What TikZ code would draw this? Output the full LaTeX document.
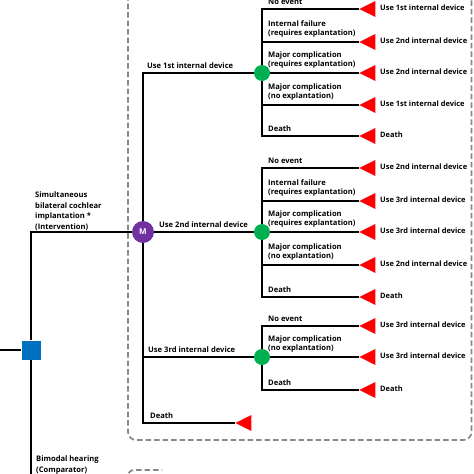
\documentclass[tikz,border=0pt]{standalone}
\usepackage{fontspec}
\setmainfont{Open Sans}
\usetikzlibrary{shapes.geometric}
\definecolor{cblue}{HTML}{0070C0}
\definecolor{cpurple}{HTML}{7030A0}
\definecolor{cgreen}{HTML}{00B050}
\definecolor{cred}{HTML}{FF0000}
\definecolor{cgray}{HTML}{888888}
\tikzset{
  wire/.style={line width=1.9pt, black},
  decnode/.style={rectangle, fill=cblue, minimum size=19pt, inner sep=0pt},
  mnode/.style={circle, fill=cpurple, minimum size=22pt, inner sep=0pt, text=white, font=\bfseries\fontsize{8}{9}\selectfont},
  chnode/.style={circle, fill=cgreen, minimum size=16pt, inner sep=0pt},
  term/.style={isosceles triangle, isosceles triangle apex angle=90, fill=cred, shape border rotate=180, minimum width=16pt, minimum height=16pt, inner sep=0pt, isosceles triangle stretches, anchor=apex},
  lbl/.style={anchor=south west, inner sep=0pt, align=left, font=\bfseries\fontsize{7.6}{9.5}\selectfont},
  outlbl/.style={anchor=west, inner sep=0pt, font=\bfseries\fontsize{7.45}{9.5}\selectfont},
  rootlbl/.style={inner sep=0pt, align=left, font=\bfseries\fontsize{7.6}{10.7}\selectfont},
  boxline/.style={cgray, line width=1.7pt, dash pattern=on 5.5pt off 3pt}
}
\begin{document}
\begin{tikzpicture}[x=1pt,y=-1pt]
\useasboundingbox (0,0) rectangle (474,474);
\clip (0,0) rectangle (474,474);
% dashed boxes
\draw[boxline, rounded corners=8pt] (128,-30) rectangle (471.5,440);
\draw[boxline, rounded corners=6pt] (128,490) -- (128,470) -- (162,470);
% nodes
\coordinate (in) at (0,350);
\coordinate (bot) at (31,480);
\node[decnode] (sq) at (31,350) {};
\node[mnode] (m) at (143,232) {M};
\node[chnode] (g1) at (262,73) {};
\node[chnode] (g2) at (262,232) {};
\node[chnode] (g3) at (262,357) {};
% terminals group 1
\node[term] (t11) at (359,9) {};
\node[term] (t12) at (359,42) {};
\node[term] (t13) at (359,73) {};
\node[term] (t14) at (359,105) {};
\node[term] (t15) at (359,136) {};
% group 2
\node[term] (t21) at (359,168) {};
\node[term] (t22) at (359,201) {};
\node[term] (t23) at (359,232) {};
\node[term] (t24) at (359,265) {};
\node[term] (t25) at (359,297) {};
% group 3
\node[term] (t31) at (359,326) {};
\node[term] (t32) at (359,357) {};
\node[term] (t33) at (359,390) {};
% death from M
\node[term] (td) at (235,423) {};
% connectors
\draw[wire] (in) -- (sq);
\draw[wire] (sq) -- (bot);
\draw[wire] (sq) |- (m);
\draw[wire] (m) |- (g1);
\draw[wire] (m) -- (g2);
\draw[wire] (m) |- (g3);
\draw[wire] (m) |- (td.apex);
\foreach \t in {t11,t12,t14,t15} \draw[wire] (g1) |- (\t.apex);
\draw[wire] (g1) -- (t13.apex);
\foreach \t in {t21,t22,t24,t25} \draw[wire] (g2) |- (\t.apex);
\draw[wire] (g2) -- (t23.apex);
\foreach \t in {t31,t33} \draw[wire] (g3) |- (\t.apex);
\draw[wire] (g3) -- (t32.apex);
% root labels
\node[rootlbl, anchor=south west] (lint) at (35,231) {Simultaneous\\bilateral cochlear\\implantation *\\(Intervention)};
\node[rootlbl, anchor=north west] (lcmp) at (36,456) {Bimodal hearing\\(Comparator)};
% M branch labels
\node[lbl] (lm1) at (147,69) {Use 1st internal device};
\node[lbl] (lm2) at (159,228) {Use 2nd internal device};
\node[lbl] (lm3) at (148,353) {Use 3rd internal device};
\node[lbl] (lm4) at (150,419) {Death};
% group 1 labels
\node[lbl] (l11) at (268,5) {No event};
\node[lbl] (l12) at (268,38) {Internal failure\\(requires explantation)};
\node[lbl] (l13) at (268,69) {Major complication\\(requires explantation)};
\node[lbl] (l14) at (268,101) {Major complication\\(no explantation)};
\node[lbl] (l15) at (268,132) {Death};
\node[outlbl] (o11) at (380,8) {Use 1st internal device};
\node[outlbl] (o12) at (380,41) {Use 2nd internal device};
\node[outlbl] (o13) at (380,72) {Use 2nd internal device};
\node[outlbl] (o14) at (380,104) {Use 1st internal device};
\node[outlbl] (o15) at (380,135) {Death};
% group 2 labels
\node[lbl] (l21) at (268,164) {No event};
\node[lbl] (l22) at (268,197) {Internal failure\\(requires explantation)};
\node[lbl] (l23) at (268,228) {Major complication\\(requires explantation)};
\node[lbl] (l24) at (268,261) {Major complication\\(no explantation)};
\node[lbl] (l25) at (268,293) {Death};
\node[outlbl] (o21) at (380,167) {Use 2nd internal device};
\node[outlbl] (o22) at (380,200) {Use 3rd internal device};
\node[outlbl] (o23) at (380,231) {Use 3rd internal device};
\node[outlbl] (o24) at (380,264) {Use 2nd internal device};
\node[outlbl] (o25) at (380,296) {Death};
% group 3 labels
\node[lbl] (l31) at (268,322) {No event};
\node[lbl] (l32) at (268,353) {Major complication\\(no explantation)};
\node[lbl] (l33) at (268,386) {Death};
\node[outlbl] (o31) at (380,325) {Use 3rd internal device};
\node[outlbl] (o32) at (380,356) {Use 3rd internal device};
\node[outlbl] (o33) at (380,389) {Death};
\end{tikzpicture}
\end{document}
